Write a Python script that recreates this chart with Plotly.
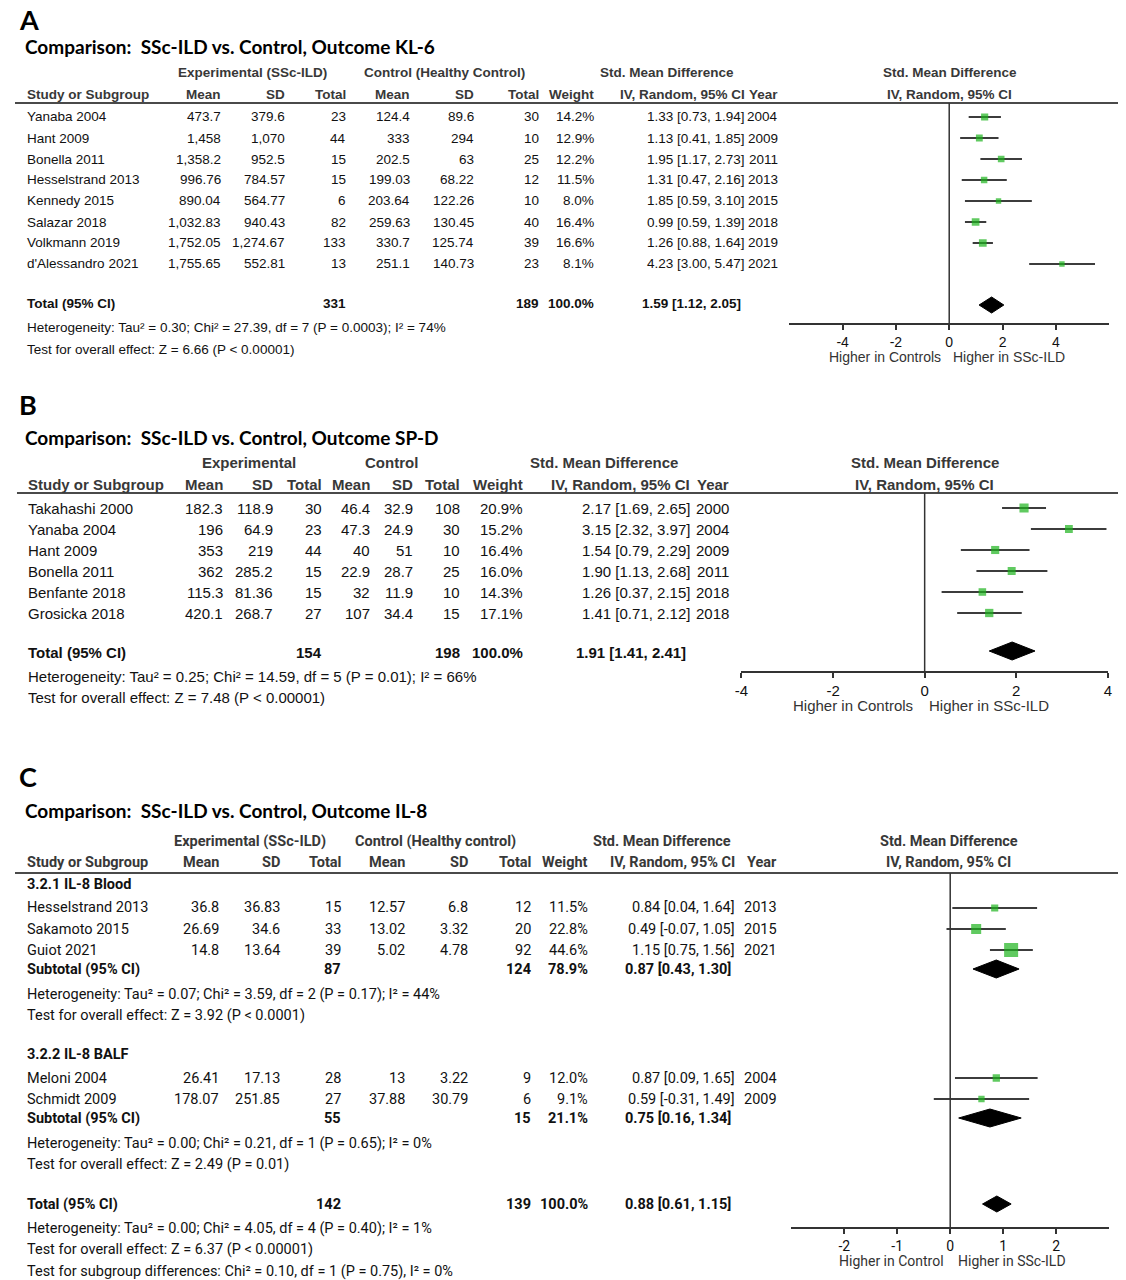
import math
import plotly.graph_objects as go

W, H = 1126, 1280
OX, OY = 8, 8                 # the page puts the figure 8 px in from the top-left
FW, FH = W - OX, H - OY

# ---------------- Panel A: KL-6 ----------------
studies_a = ["Yanaba 2004", "Hant 2009", "Bonella 2011", "Hesselstrand 2013",
             "Kennedy 2015", "Salazar 2018", "Volkmann 2019", "d'Alessandro 2021"]
exp_mean_a = [473.7, 1458, 1358.2, 996.76, 890.04, 1032.83, 1752.05, 1755.65]
exp_sd_a = [379.6, 1070, 952.5, 784.57, 564.77, 940.43, 1274.67, 552.81]
exp_n_a = [23, 44, 15, 15, 6, 82, 133, 13]
ctl_mean_a = [124.4, 333, 202.5, 199.03, 203.64, 259.63, 330.7, 251.1]
ctl_sd_a = [89.6, 294, 63, 68.22, 122.26, 130.45, 125.74, 140.73]
ctl_n_a = [30, 10, 25, 12, 10, 40, 39, 23]
weight_a = [14.2, 12.9, 12.2, 11.5, 8.0, 16.4, 16.6, 8.1]
smd_a = [1.33, 1.13, 1.95, 1.31, 1.85, 0.99, 1.26, 4.23]
lo_a = [0.73, 0.41, 1.17, 0.47, 0.59, 0.59, 0.88, 3.00]
hi_a = [1.94, 1.85, 2.73, 2.16, 3.10, 1.39, 1.64, 5.47]
year_a = [2004, 2009, 2011, 2013, 2015, 2018, 2019, 2021]
total_a = dict(n_exp=331, n_ctl=189, w=100.0, smd=1.59, lo=1.12, hi=2.05)
notes_a = ["Heterogeneity: Tau² = 0.30; Chi² = 27.39, df = 7 (P = 0.0003); I² = 74%",
           "Test for overall effect: Z = 6.66 (P < 0.00001)"]

# ---------------- Panel B: SP-D ----------------
studies_b = ["Takahashi 2000", "Yanaba 2004", "Hant 2009", "Bonella 2011",
             "Benfante 2018", "Grosicka 2018"]
exp_mean_b = [182.3, 196, 353, 362, 115.3, 420.1]
exp_sd_b = [118.9, 64.9, 219, 285.2, 81.36, 268.7]
exp_n_b = [30, 23, 44, 15, 15, 27]
ctl_mean_b = [46.4, 47.3, 40, 22.9, 32, 107]
ctl_sd_b = [32.9, 24.9, 51, 28.7, 11.9, 34.4]
ctl_n_b = [108, 30, 10, 25, 10, 15]
weight_b = [20.9, 15.2, 16.4, 16.0, 14.3, 17.1]
smd_b = [2.17, 3.15, 1.54, 1.90, 1.26, 1.41]
lo_b = [1.69, 2.32, 0.79, 1.13, 0.37, 0.71]
hi_b = [2.65, 3.97, 2.29, 2.68, 2.15, 2.12]
year_b = [2000, 2004, 2009, 2011, 2018, 2018]
total_b = dict(n_exp=154, n_ctl=198, w=100.0, smd=1.91, lo=1.41, hi=2.41)
notes_b = ["Heterogeneity: Tau² = 0.25; Chi² = 14.59, df = 5 (P = 0.01); I² = 66%",
           "Test for overall effect: Z = 7.48 (P < 0.00001)"]

# ---------------- Panel C: IL-8 ----------------
groups_c = ["3.2.1 IL-8 Blood", "3.2.2 IL-8 BALF"]
studies_c = [["Hesselstrand 2013", "Sakamoto 2015", "Guiot 2021"],
             ["Meloni 2004", "Schmidt 2009"]]
exp_mean_c = [[36.8, 26.69, 14.8], [26.41, 178.07]]
exp_sd_c = [[36.83, 34.6, 13.64], [17.13, 251.85]]
exp_n_c = [[15, 33, 39], [28, 27]]
ctl_mean_c = [[12.57, 13.02, 5.02], [13, 37.88]]
ctl_sd_c = [[6.8, 3.32, 4.78], [3.22, 30.79]]
ctl_n_c = [[12, 20, 92], [9, 6]]
weight_c = [[11.5, 22.8, 44.6], [12.0, 9.1]]
smd_c = [[0.84, 0.49, 1.15], [0.87, 0.59]]
lo_c = [[0.04, -0.07, 0.75], [0.09, -0.31]]
hi_c = [[1.64, 1.05, 1.56], [1.65, 1.49]]
year_c = [[2013, 2015, 2021], [2004, 2009]]
subtotal_c = [dict(n_exp=87, n_ctl=124, w=78.9, smd=0.87, lo=0.43, hi=1.30),
              dict(n_exp=55, n_ctl=15, w=21.1, smd=0.75, lo=0.16, hi=1.34)]
subnotes_c = [["Heterogeneity: Tau² = 0.07; Chi² = 3.59, df = 2 (P = 0.17); I² = 44%",
               "Test for overall effect: Z = 3.92 (P < 0.0001)"],
              ["Heterogeneity: Tau² = 0.00; Chi² = 0.21, df = 1 (P = 0.65); I² = 0%",
               "Test for overall effect: Z = 2.49 (P = 0.01)"]]
total_c = dict(n_exp=142, n_ctl=139, w=100.0, smd=0.88, lo=0.61, hi=1.15)
notes_c = ["Heterogeneity: Tau² = 0.00; Chi² = 4.05, df = 4 (P = 0.40); I² = 1%",
           "Test for overall effect: Z = 6.37 (P < 0.00001)",
           "Test for subgroup differences: Chi² = 0.10, df = 1 (P = 0.75), I² = 0%"]

# ---------------- styling ----------------
ARIAL = "Liberation Sans, Arial, sans-serif"
NARROW = "Roboto, Liberation Sans, sans-serif"
TITLE = "Lato, Open Sans, sans-serif"
INK = "#111111"
HEAD = "#383838"
AXC = "#333333"
GREEN = "#1db41d"
WHISK = "#3c3c3c"


def px(x):
    return (x - OX) / FW


def py(y):
    return 1 - (y - OY) / FH


annotations = []
shapes = []
traces = []


def put(x, y, s, align="left", size=13.5, bold=False, family=ARIAL, color=INK):
    annotations.append(dict(
        x=px(x), y=py(y), xref="paper", yref="paper", text=s, showarrow=False,
        xanchor=align, yanchor="middle", borderpad=0, borderwidth=0,
        font=dict(family=family, size=size, color=color, weight=700 if bold else 400)))


def num(v):
    return f"{v:,}"


def ci(m, l, h):
    return f"{m:.2f} [{l:.2f}, {h:.2f}]"


def hline(y, x0=8, x1=W):
    shapes.append(dict(type="line", xref="paper", yref="paper", x0=px(x0), x1=px(x1),
                       y0=py(y), y1=py(y), line=dict(color="#4a4a4a", width=2)))


def header(cfg, top_labels, fam, size):
    y1, y2 = cfg["hy"]
    cols = cfg["cols"]
    for cx, lab in zip(cfg["hcent"], top_labels):
        put(cx, y1, lab, "center", size, True, fam, HEAD)
    put(cfg["left"], y2, "Study or Subgroup", "left", size, True, fam, HEAD)
    for c, lab in zip(cols, ["Mean", "SD", "Total", "Mean", "SD", "Total", "Weight",
                             "IV, Random, 95% CI", "Year"]):
        put(c, y2, lab, "right", size, True, fam, HEAD)
    put(cfg["plot_c"], y2, "IV, Random, 95% CI", "center", size, True, fam, HEAD)
    hline(cfg["line"], cfg["line_x0"])


def study_row(cfg, y, vals, fam, size):
    name, em, es, en, cm, cs, cn, w, m, l, h, yr = vals
    cols = cfg["cols"]
    put(cfg["left"], y, name, "left", size, False, fam)
    for c, s in zip(cols, [num(em), num(es), str(en), num(cm), num(cs), str(cn),
                           f"{w:.1f}%", ci(m, l, h), str(yr)]):
        put(c, y, s, "right", size, False, fam)


def total_row(cfg, y, label, t, fam, size):
    cols = cfg["cols"]
    put(cfg["left"], y, label, "left", size, True, fam)
    put(cols[2], y, str(t["n_exp"]), "right", size, True, fam)
    put(cols[5], y, str(t["n_ctl"]), "right", size, True, fam)
    put(cols[6], y, f"{t['w']:.1f}%", "right", size, True, fam)
    put(cols[7] - 4, y, ci(t["smd"], t["lo"], t["hi"]), "right", size, True, fam)


def forest(n, ys, smd, lo, hi, wts, k):
    ax = "" if n == 1 else str(n)
    xs, yl = [], []
    for yy, l, h in zip(ys, lo, hi):
        xs += [l, h, None]
        yl += [yy, yy, None]
    traces.append(go.Scatter(x=xs, y=yl, mode="lines", xaxis="x" + ax, yaxis="y" + ax,
                             line=dict(color=WHISK, width=2), hoverinfo="skip",
                             showlegend=False))
    traces.append(go.Scatter(x=smd, y=ys, mode="markers", xaxis="x" + ax, yaxis="y" + ax,
                             marker=dict(symbol="square", color=GREEN,
                                         size=[k * math.sqrt(w) for w in wts], line_width=0),
                             showlegend=False))


def diamond(n, y, t, half):
    ax = "" if n == 1 else str(n)
    traces.append(go.Scatter(
        x=[t["lo"], t["smd"], t["hi"], t["smd"], t["lo"]],
        y=[y, y - half, y, y + half, y], mode="lines", fill="toself",
        fillcolor="black", line=dict(color="black", width=1),
        xaxis="x" + ax, yaxis="y" + ax, showlegend=False, hoverinfo="skip"))


layout_axes = {}


def axes(n, cfg, ticks, fam, size, lab_gap):
    ax = "" if n == 1 else str(n)
    layout_axes["xaxis" + ax] = dict(
        domain=[px(cfg["x0"]), px(cfg["x1"])], range=cfg["xr"], anchor="y" + ax,
        showline=True, linecolor=AXC, linewidth=2, ticks="outside", ticklen=5,
        tickwidth=1.5, tickcolor=AXC, tickvals=ticks, ticktext=[str(t) for t in ticks],
        showgrid=False, zeroline=False, fixedrange=True,
        tickfont=dict(family=fam, size=size, color=INK))
    layout_axes["yaxis" + ax] = dict(
        domain=[py(cfg["bottom"]), py(cfg["top"])], range=[cfg["bottom"], cfg["top"]],
        anchor="x" + ax, visible=False, fixedrange=True)
    shapes.append(dict(type="line", xref="x" + ax, yref="y" + ax, x0=0, x1=0,
                       y0=cfg["top"], y1=cfg["bottom"], line=dict(color=AXC, width=1.5)))
    lab_y = cfg["bottom"] + lab_gap
    put(cfg["lab_x"][0], lab_y, cfg["labs"][0], "center", size, False, fam, "#333")
    put(cfg["lab_x"][1], lab_y, cfg["labs"][1], "center", size, False, fam, "#333")


# ---------------- Panel A ----------------
cfg_a = dict(hy=(73, 94), hcent=[248, 442, 666, 952], left=20,
             cols=[216, 281, 342, 407, 472, 537, 593, 745, 779], plot_c=952,
             line=103, line_x0=8, x0=790, x1=1113, xr=[-6, 6], top=103, bottom=323,
             lab_x=[887, 1012], labs=["Higher in Controls", "Higher in SSc-ILD"])
put(12, 19, "A", "left", 27, True, TITLE, "#000")
put(18, 46, "Comparison:  SSc-ILD vs. Control, Outcome KL-6", "left", 19, True, TITLE, "#000")
header(cfg_a, ["Experimental (SSc-ILD)", "Control (Healthy Control)", "Std. Mean Difference",
               "Std. Mean Difference"], ARIAL, 13.5)
rows_a = [117 + i * 21 for i in range(len(studies_a))]
for y, vals in zip(rows_a, zip(studies_a, exp_mean_a, exp_sd_a, exp_n_a, ctl_mean_a, ctl_sd_a,
                              ctl_n_a, weight_a, smd_a, lo_a, hi_a, year_a)):
    study_row(cfg_a, y, vals, ARIAL, 13.5)
total_row(cfg_a, 304, "Total (95% CI)", total_a, ARIAL, 13.5)
for i, s in enumerate(notes_a):
    put(20, 328 + i * 21, s, "left", 13.5, False, ARIAL)
forest(1, rows_a, smd_a, lo_a, hi_a, weight_a, 1.9)
diamond(1, 305, total_a, 8)
axes(1, cfg_a, [-4, -2, 0, 2, 4], ARIAL, 14, 34)

# ---------------- Panel B ----------------
cfg_b = dict(hy=(463, 484), hcent=[244, 388, 603, 927], left=21,
             cols=[218, 269, 318, 367, 410, 457, 521, 690, 729], plot_c=927,
             line=493, line_x0=10, x0=741.7, x1=1111.7, xr=[-4, 4], top=493, bottom=671,
             lab_x=[854, 992], labs=["Higher in Controls", "Higher in SSc-ILD"])
put(12, 404, "B", "left", 27, True, TITLE, "#000")
put(18, 437, "Comparison:  SSc-ILD vs. Control, Outcome SP-D", "left", 19, True, TITLE, "#000")
header(cfg_b, ["Experimental", "Control", "Std. Mean Difference", "Std. Mean Difference"],
       ARIAL, 15)
rows_b = [508 + i * 21 for i in range(len(studies_b))]
for y, vals in zip(rows_b, zip(studies_b, exp_mean_b, exp_sd_b, exp_n_b, ctl_mean_b, ctl_sd_b,
                              ctl_n_b, weight_b, smd_b, lo_b, hi_b, year_b)):
    study_row(cfg_b, y, vals, ARIAL, 15)
total_row(cfg_b, 652, "Total (95% CI)", total_b, ARIAL, 15)
for i, s in enumerate(notes_b):
    put(21, 676 + i * 21, s, "left", 15, False, ARIAL)
forest(2, rows_b, smd_b, lo_b, hi_b, weight_b, 2.0)
diamond(2, 651, total_b, 9)
axes(2, cfg_b, [-4, -2, 0, 2, 4], ARIAL, 15, 34)

# ---------------- Panel C ----------------
cfg_c = dict(hy=(841, 862), hcent=[245, 433, 661, 951], left=20,
             cols=[214, 276, 337, 402, 465, 529, 587, 735, 778], plot_c=951,
             line=873, line_x0=8, x0=792, x1=1113, xr=[-3, 3], top=873, bottom=1227,
             lab_x=[893, 1015], labs=["Higher in Control", "Higher in SSc-ILD"])
put(12, 776, "C", "left", 27, True, TITLE, "#000")
put(18, 810, "Comparison:  SSc-ILD vs. Control, Outcome IL-8", "left", 19, True, TITLE, "#000")
header(cfg_c, ["Experimental (SSc-ILD)", "Control (Healthy control)", "Std. Mean Difference",
               "Std. Mean Difference"], NARROW, 14.5)
y = 884
all_y, all_m, all_l, all_h, all_w = [], [], [], [], []
for g in range(len(groups_c)):
    put(20, y, groups_c[g], "left", 14.5, True, NARROW)
    y += 24
    for i in range(len(studies_c[g])):
        study_row(cfg_c, y, (studies_c[g][i], exp_mean_c[g][i], exp_sd_c[g][i], exp_n_c[g][i],
                             ctl_mean_c[g][i], ctl_sd_c[g][i], ctl_n_c[g][i], weight_c[g][i],
                             smd_c[g][i], lo_c[g][i], hi_c[g][i], year_c[g][i]), NARROW, 14.5)
        all_y.append(y)
        all_m.append(smd_c[g][i])
        all_l.append(lo_c[g][i])
        all_h.append(hi_c[g][i])
        all_w.append(weight_c[g][i])
        y += 21
    y -= 2
    total_row(cfg_c, y, "Subtotal (95% CI)", subtotal_c[g], NARROW, 14.5)
    diamond(3, y, subtotal_c[g], 9)
    y += 25
    for s in subnotes_c[g]:
        put(20, y, s, "left", 14.5, False, NARROW)
        y += 21
    y += 18
y += 1
total_row(cfg_c, y, "Total (95% CI)", total_c, NARROW, 14.5)
diamond(3, y, total_c, 8)
y += 24
for s in notes_c:
    put(20, y, s, "left", 14.5, False, NARROW)
    y += 21.5
forest(3, all_y, all_m, all_l, all_h, all_w, 2.1)
axes(3, cfg_c, [-2, -1, 0, 1, 2], NARROW, 14, 34)

fig = go.Figure(traces)
fig.update_layout(width=FW, height=FH, margin=dict(l=0, r=0, t=0, b=0),
                  paper_bgcolor="white", plot_bgcolor="white", showlegend=False,
                  annotations=annotations, shapes=shapes, **layout_axes)
fig.write_html("out.html")
